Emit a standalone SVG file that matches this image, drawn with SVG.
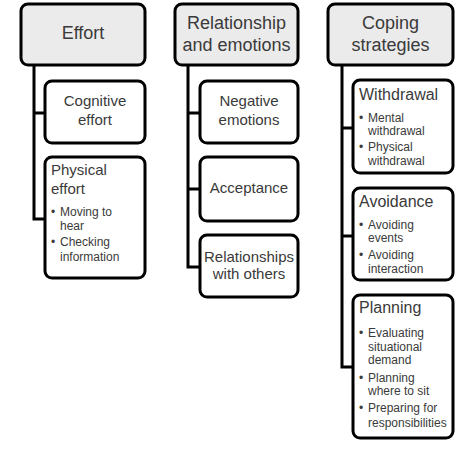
<svg xmlns="http://www.w3.org/2000/svg" width="474" height="474" viewBox="0 0 474 474">
<style>
.hd{fill:#ebebeb;stroke:#000;stroke-width:3}
.bx{fill:#fff;stroke:#000;stroke-width:3}
text{font-family:"Liberation Sans",Arial,sans-serif;fill:#3a3a3a}
.h{font-size:18px;text-anchor:middle}
.s{font-size:15px;text-anchor:middle}
.p{font-size:15px}
.t{font-size:16px}
.b{font-size:12px}
.c path{fill:none;stroke:#000;stroke-width:3}
</style>
<rect width="474" height="474" fill="#fff"/>
<g class="c" id="connectors">
<path d="M34 65V219H45M34 113H45"/>
<path d="M188 65V267H200M188 113H200M188 189H200"/>
<path d="M342 65V367H353M342 128H353M342 236H353"/>
</g>
<g id="effort"><rect class="hd" x="21" y="4" width="124" height="61" rx="7"/><text class="h" x="83" y="39">Effort</text></g>
<g id="cognitive"><rect class="bx" x="45" y="81" width="100" height="62" rx="7"/><text class="s" x="95" y="106">Cognitive</text><text class="s" x="95" y="125">effort</text></g>
<g id="physical"><rect class="bx" x="45" y="157" width="100" height="121" rx="7"/>
<text class="p" x="51" y="175">Physical</text><text class="p" x="51" y="194">effort</text>
<text class="b" x="51" y="216">•</text><text class="b" x="60" y="216">Moving to</text><text class="b" x="60" y="230">hear</text>
<text class="b" x="51" y="246">•</text><text class="b" x="60" y="246">Checking</text><text class="b" x="60" y="261">information</text></g>
<g id="relationship"><rect class="hd" x="175" y="4" width="123" height="61" rx="7"/><text class="h" x="236.5" y="29">Relationship</text><text class="h" x="236.5" y="51">and emotions</text></g>
<g id="negative"><rect class="bx" x="200" y="81" width="98" height="62" rx="7"/><text class="s" x="249" y="106">Negative</text><text class="s" x="249" y="125">emotions</text></g>
<g id="acceptance"><rect class="bx" x="200" y="157" width="98" height="64" rx="7"/><text class="s" x="249" y="193">Acceptance</text></g>
<g id="relothers"><rect class="bx" x="200" y="235" width="98" height="62" rx="7"/><text class="s" x="249" y="262">Relationships</text><text class="s" x="249" y="279">with others</text></g>
<g id="coping"><rect class="hd" x="328" y="4" width="125" height="61" rx="7"/><text class="h" x="390.5" y="29">Coping</text><text class="h" x="390.5" y="51">strategies</text></g>
<g id="withdrawal"><rect class="bx" x="353" y="80" width="100" height="93" rx="7"/>
<text class="t" x="359" y="100">Withdrawal</text>
<text class="b" x="359" y="122">•</text><text class="b" x="368" y="122">Mental</text><text class="b" x="368" y="135">withdrawal</text>
<text class="b" x="359" y="151">•</text><text class="b" x="368" y="151">Physical</text><text class="b" x="368" y="165">withdrawal</text></g>
<g id="avoidance"><rect class="bx" x="353" y="188" width="100" height="92" rx="7"/>
<text class="t" x="359" y="207">Avoidance</text>
<text class="b" x="359" y="229">•</text><text class="b" x="368" y="229">Avoiding</text><text class="b" x="368" y="242">events</text>
<text class="b" x="359" y="259">•</text><text class="b" x="368" y="259">Avoiding</text><text class="b" x="368" y="273">interaction</text></g>
<g id="planning"><rect class="bx" x="353" y="295" width="100" height="143" rx="7"/>
<text class="t" x="359" y="313">Planning</text>
<text class="b" x="359" y="337">•</text><text class="b" x="368" y="337">Evaluating</text><text class="b" x="368" y="351">situational</text><text class="b" x="368" y="364">demand</text>
<text class="b" x="359" y="382">•</text><text class="b" x="368" y="382">Planning</text><text class="b" x="368" y="395">where to sit</text>
<text class="b" x="359" y="412">•</text><text class="b" x="368" y="412">Preparing for</text><text class="b" x="368" y="427">responsibilities</text></g>
</svg>
